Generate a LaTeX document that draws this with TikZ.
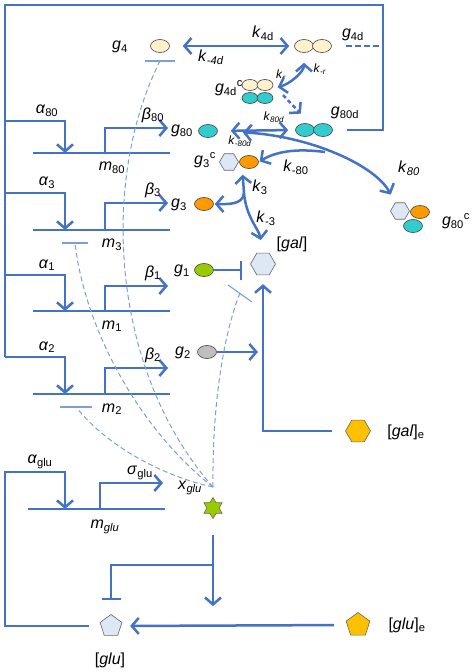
\documentclass[tikz,border=0pt]{standalone}
\usepackage{fontspec}
\setmainfont{Liberation Sans}
\usetikzlibrary{positioning, arrows.meta, shapes.geometric, calc}

\definecolor{wireblue}{RGB}{68,114,196}
\definecolor{hintblue}{RGB}{128,158,214}
\definecolor{paleyel}{RGB}{255,242,204}
\definecolor{tealp}{RGB}{51,204,204}
\definecolor{orangep}{RGB}{255,153,0}
\definecolor{limep}{RGB}{153,204,0}
\definecolor{greyp}{RGB}{191,191,191}
\definecolor{palehex}{RGB}{222,231,244}
\definecolor{goldp}{RGB}{255,192,0}

\newcommand{\sbs}[2]{\textit{#1}\textsubscript{#2}}

\begin{document}
\begin{tikzpicture}[x=1pt, y=-1pt, font=\fontsize{16}{18}\selectfont,
  >={Straight Barb[length=7pt,width=16pt]},
  wire/.style={draw=wireblue, line width=2.5pt},
  act/.style={wire, ->},
  rev/.style={wire, <->},
  inh/.style={wire, -{Bar[width=19pt]}},
  hint/.style={draw=hintblue, line width=1pt, dash pattern=on 5pt off 3pt},
  hbar/.style={draw=hintblue, line width=1.1pt},
  prot/.style={ellipse, draw=black!75, line width=0.6pt, minimum width=19pt, minimum height=13pt, inner sep=0pt},
  sprot/.style={prot, minimum width=16pt, minimum height=11pt},
  hexa/.style={regular polygon, regular polygon sides=6, draw=black!60, line width=0.6pt, fill=palehex, minimum size=25pt, inner sep=0pt},
  penta/.style={regular polygon, regular polygon sides=5, draw=black!60, line width=0.6pt, fill=palehex, minimum size=23pt, inner sep=0pt},
  klab/.style={font=\fontsize{12}{14}\selectfont}]

\useasboundingbox (0,0) rectangle (474,672);

% species
\node[prot, fill=paleyel] (g4) at (160,46) {};
\node[prot, fill=paleyel] (g4da) at (304,46) {};
\node[prot, fill=paleyel] (g4db) at (322,46) {};
\node[sprot, fill=paleyel] (g4dya) at (250,85) {};
\node[sprot, fill=paleyel] (g4dyb) at (265,85) {};
\node[sprot, fill=tealp] (g4dta) at (250,98) {};
\node[sprot, fill=tealp] (g4dtb) at (265,98) {};
\node[prot, fill=tealp] (g80) at (208,131) {};
\node[prot, fill=tealp] (g80da) at (305,130) {};
\node[prot, fill=tealp] (g80db) at (323,130) {};
\node[hexa, minimum size=19pt] (g3ch) at (229,162) {};
\node[prot, fill=orangep] (g3co) at (249,162) {};
\node[prot, fill=orangep] (g3) at (204,204) {};
\node[hexa, minimum size=19pt] (g80ch) at (400,211) {};
\node[prot, fill=orangep] (g80co) at (420,212) {};
\node[prot, fill=tealp] (g80ct) at (413,226) {};
\node[hexa] (gal) at (263,264) {};
\node[prot, fill=limep] (g1) at (204,270) {};
\node[prot, fill=greyp] (g2) at (207,352) {};
\node[hexa, fill=goldp] (gale) at (358,431) {};
\node[star, star points=6, star point ratio=1.7, minimum size=21pt, inner sep=0pt,
  fill=limep, draw=black!60, line width=0.6pt] (xg) at (213,508) {};
\node[penta] (glu) at (111,626) {};
\node[penta, fill=goldp, minimum size=25pt] (glue) at (358,625) {};

% labels
\node (lg4) at (120,47) {\sbs{g}{4}};
\node (lk4d) at (263,33) {\sbs{k}{4d}};
\node (lkm4d) at (211,57) {\sbs{k}{\textit{-4d}}};
\node (lg4d) at (353,35) {\sbs{g}{4d}};
\node (lg4dc) at (229,88) {\textit{g}\textsubscript{4d}\textsuperscript{c}};
\node[klab] (lkr) at (281,75) {\sbs{k}{\textit{r}}};
\node[klab] (lkmr) at (320,69) {\sbs{k}{\textit{-r}}};
\node (lg80d) at (345,113) {\sbs{g}{80d}};
\node[klab] (lk80d) at (274,117) {\sbs{k}{\textit{80d}}};
\node[klab] (lkm80d) at (240,141) {\sbs{k}{\textit{-80d}}};
\node (lg80) at (182,131) {\sbs{g}{80}};
\node (lg3c) at (205,160) {\textit{g}\textsubscript{3}\textsuperscript{c}};
\node (lkm80) at (296,167) {\sbs{k}{-80}};
\node (lk80) at (409,168) {\sbs{k}{\textit{80}}};
\node (lk3) at (260,187) {\sbs{k}{3}};
\node (lkm3) at (266,218) {\sbs{k}{-3}};
\node (lg3) at (179,205) {\sbs{g}{3}};
\node (lg80c) at (456,221) {\textit{g}\textsubscript{80}\textsuperscript{c}};
\node (lgal) at (292,244) {[\textit{gal}]};
\node (lg1) at (182,271) {\sbs{g}{1}};
\node (lg2) at (183,353) {\sbs{g}{2}};
\node (lgale) at (406,432) {[\textit{gal}]\textsubscript{e}};
\node (laglu) at (40,462) {\sbs{α}{glu}};
\node (lsglu) at (140,473) {\sbs{σ}{glu}};
\node (lxglu) at (190,488) {\sbs{x}{\textit{glu}}};
\node (lmglu) at (105,527) {\sbs{m}{\textit{glu}}};
\node (lglue) at (407,625) {[\textit{glu}]\textsubscript{e}};
\node (lglu) at (110,660) {[\textit{glu}]};

% gene modules
\foreach \i/\ya/\yg/\yp in {80/121/153/128, 3/193/230/203, 1/275/311/286, 2/357/394/368}{
  \coordinate (gs\i) at (33,\yg);
  \coordinate (ge\i) at (170,\yg);
  \coordinate (pr\i) at (105,\yg);
  \coordinate (ts\i) at (168,\yp);
  \coordinate (br\i) at (5,\ya);
  \coordinate (op\i) at (65,\yg);
  \draw[wire] (gs\i) -- (ge\i);
  \draw[act] (pr\i) |- (ts\i);
  \draw[act] (br\i) -| (op\i);
  \node (la\i) at (47,\ya-10) {\sbs{α}{\i}};
  \node (lb\i) at (153,\yp-13) {\sbs{β}{\i}};
  \node (lm\i) at (112,\yg+15) {\sbs{m}{\i}};
}
\coordinate (gsg) at (28,509);
\coordinate (geg) at (165,509);
\coordinate (prg) at (100,509);
\coordinate (tsg) at (163,483);
\coordinate (brg) at (5,472);
\coordinate (opg) at (65,509);
\draw[wire] (gsg) -- (geg);
\draw[act] (prg) |- (tsg);
\draw[act, shorten <=12pt] (glu.west) -| (brg) -| (opg);

% outer loop
\coordinate (frA) at (383,5);
\draw[wire, shorten <=14pt] (g80db.east) -| (frA) -| (br2);
\draw[wire, dash pattern=on 6pt off 3pt, shorten <=14pt] (g4db.east) -- (g4db.east -| frA);

% reactions
\draw[rev, shorten <=13pt, shorten >=5pt] (g4.east) -- (g4da.west);
\draw[rev, shorten <=7pt, shorten >=10pt] (g4dyb.south east) to[out=15, in=-90] (g4da.south);
\draw[act, dash pattern=on 4pt off 3pt, shorten <=14pt, shorten >=16pt] (g4dyb.east) -- (g80da.north east);
\draw[rev, shorten <=13pt, shorten >=7pt] (g80.east) -- (g80da.west);
\draw[rev, shorten <=25pt, shorten >=9pt] (g80.east) .. controls (310,136) and (375,165) .. (g80ch.120);
\coordinate (k80m) at (325,152);
\draw[act, shorten >=1pt] (k80m) .. controls (295,148) and (275,152) .. (g3co.east);
\coordinate (kj) at (244,193);
\draw[act, shorten >=8pt] (kj) -- (g3co.south west);
\draw[act, shorten >=1pt] (kj) to[out=-95, in=0] (g3.east);
\draw[act, shorten >=13pt] (kj) to[out=-85, in=100] (gal.north);

% regulation of gal
\draw[inh, shorten >=8pt] (g1.east) -- (g1.east -| gal.west);
\draw[act, shorten >=5pt] (g2.east) -- (g2.east -| gal);
\draw[act, shorten <=13pt, shorten >=9pt] (gale.west) -| (gal.south);

% glucose
\coordinate (xj) at (213,565);
\draw[act, shorten <=16pt, shorten >=6pt] (xg.south) -- (xg |- glue.north);
\draw[inh, shorten >=14pt] (xj) -| (glu.north);
\draw[act, shorten <=13pt, shorten >=9pt] (glue.west) -- (glu.east);

% repression by glucose
\coordinate (xhub) at (213,487);
\coordinate (g4b) at (160,61);
\coordinate (m3b) at (75,243);
\coordinate (m2b) at (76,407);
\coordinate (galb) at (240,293);
\draw[hint] (xhub) .. controls (110,370) and (100,180) .. (g4b);
\draw[hint] (xhub) .. controls (140,430) and (85,330) .. (m3b);
\draw[hint] (xhub) .. controls (170,478) and (110,450) .. (m2b);
\draw[hint] (xhub) .. controls (212,400) and (225,330) .. (galb);
\draw[hbar] ([xshift=-15pt]g4b) -- ([xshift=15pt]g4b);
\draw[hbar] ([xshift=-13pt]m3b) -- ([xshift=13pt]m3b);
\draw[hbar] ([xshift=-16pt]m2b) -- ([xshift=16pt]m2b);
\draw[hbar] ($(galb)+(-12,-8)$) -- ($(galb)+(12,9)$);
\end{tikzpicture}
\end{document}
